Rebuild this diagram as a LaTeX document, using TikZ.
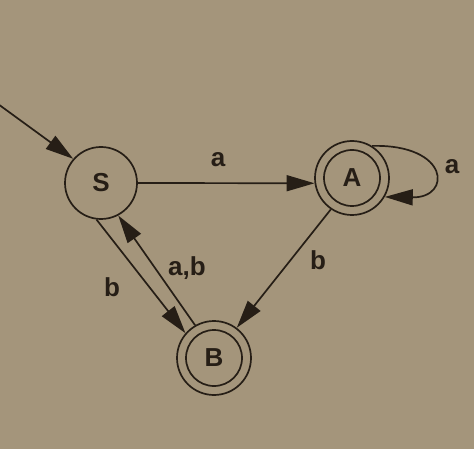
\documentclass[tikz,border=0pt]{standalone}
\usepackage{fontspec}
\setmainfont{Liberation Sans}
\usetikzlibrary{arrows.meta}
\definecolor{paper}{HTML}{A4957B}
\definecolor{ink}{HTML}{261E16}
\begin{document}
\begin{tikzpicture}[x=1pt,y=1pt,
  state/.style={circle,draw=ink,line width=1.7pt,minimum size=72pt,inner sep=0pt,text=ink,font=\fontsize{26}{26}\selectfont\bfseries},
  outerst/.style={circle,draw=ink,line width=1.7pt,minimum size=74pt,inner sep=0pt},
  innerst/.style={circle,draw=ink,line width=1.7pt,minimum size=56pt,inner sep=0pt,text=ink,font=\fontsize{26}{26}\selectfont\bfseries},
  edge/.style={draw=ink,line width=1.7pt,-{Triangle[length=28pt,width=16pt]}},
  lbl/.style={text=ink,font=\fontsize{26}{26}\selectfont\bfseries,inner sep=0pt}]
\fill[paper] (0,0) rectangle (474,-449);
\useasboundingbox (0,0) rectangle (474,-449);
\node[state] (S) at (101,-183) {S};
\node[outerst] (A) at (352,-178) {};
\node[innerst] (Ai) at (A) {A};
\node[outerst] (B) at (214,-358) {};
\node[innerst] (Bi) at (B) {B};
\coordinate (init) at (-2,-104);
\draw[edge] (init) -- (S.139);
\draw[edge] (S.east) -- (A.188);
\draw[edge] (A.58) .. controls (450,-144) and (452,-198) .. (A.-30);
\draw[edge] (A.-124) -- (B.53);
\draw[edge] (S.-97) -- (B.139);
\draw[edge] (B.120) -- (S.-62);
\node[lbl] (la) at (218,-160) {a};
\node[lbl] (lloop) at (452,-167) {a};
\node[lbl] (lb1) at (318,-260) {b};
\node[lbl] (lb2) at (112,-287) {b};
\node[lbl] (lab) at (187,-268) {a,b};
\end{tikzpicture}
\end{document}
